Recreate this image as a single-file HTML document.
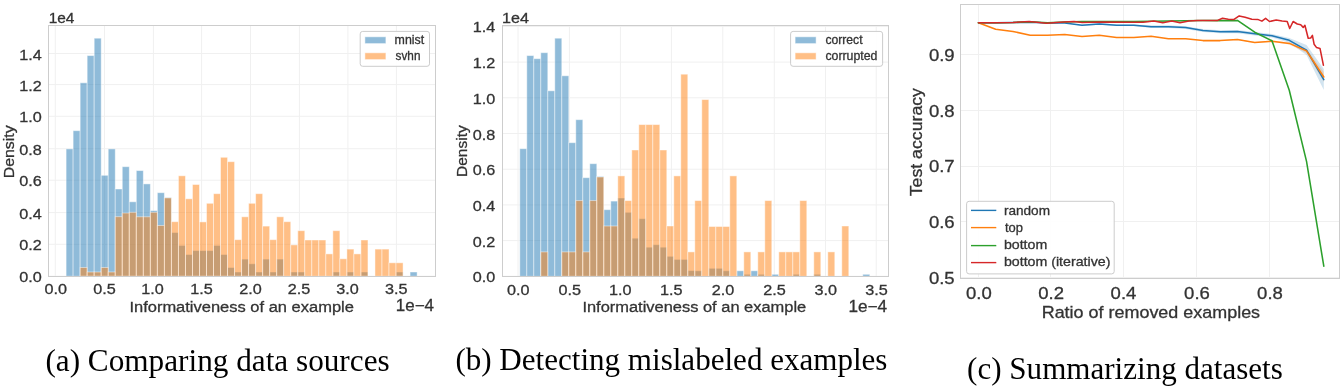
<!DOCTYPE html>
<html><head><meta charset="utf-8"><style>
html,body{margin:0;padding:0;background:#fff;width:1343px;height:386px;overflow:hidden}
svg{display:block;will-change:transform}
</style></head><body>
<svg width="1343" height="386" viewBox="0 0 1343 386">
<rect x="0" y="0" width="1343" height="386" fill="#fff"/>
<line x1="55.30" y1="25.50" x2="55.30" y2="276.50" stroke="#f0f0f0" stroke-width="1"/>
<line x1="104.50" y1="25.50" x2="104.50" y2="276.50" stroke="#f0f0f0" stroke-width="1"/>
<line x1="153.40" y1="25.50" x2="153.40" y2="276.50" stroke="#f0f0f0" stroke-width="1"/>
<line x1="201.60" y1="25.50" x2="201.60" y2="276.50" stroke="#f0f0f0" stroke-width="1"/>
<line x1="250.50" y1="25.50" x2="250.50" y2="276.50" stroke="#f0f0f0" stroke-width="1"/>
<line x1="299.40" y1="25.50" x2="299.40" y2="276.50" stroke="#f0f0f0" stroke-width="1"/>
<line x1="347.90" y1="25.50" x2="347.90" y2="276.50" stroke="#f0f0f0" stroke-width="1"/>
<line x1="396.40" y1="25.50" x2="396.40" y2="276.50" stroke="#f0f0f0" stroke-width="1"/>
<line x1="48.50" y1="276.20" x2="435.50" y2="276.20" stroke="#f0f0f0" stroke-width="1"/>
<line x1="48.50" y1="244.30" x2="435.50" y2="244.30" stroke="#f0f0f0" stroke-width="1"/>
<line x1="48.50" y1="212.60" x2="435.50" y2="212.60" stroke="#f0f0f0" stroke-width="1"/>
<line x1="48.50" y1="180.20" x2="435.50" y2="180.20" stroke="#f0f0f0" stroke-width="1"/>
<line x1="48.50" y1="148.70" x2="435.50" y2="148.70" stroke="#f0f0f0" stroke-width="1"/>
<line x1="48.50" y1="116.30" x2="435.50" y2="116.30" stroke="#f0f0f0" stroke-width="1"/>
<line x1="48.50" y1="84.60" x2="435.50" y2="84.60" stroke="#f0f0f0" stroke-width="1"/>
<line x1="48.50" y1="53.50" x2="435.50" y2="53.50" stroke="#f0f0f0" stroke-width="1"/>
<rect x="66.10" y="148.90" width="7.02" height="127.30" fill="rgb(31,119,180)" fill-opacity="0.5" stroke="#fff" stroke-opacity="0.5" stroke-width="0.9"/>
<rect x="73.12" y="130.70" width="7.02" height="145.50" fill="rgb(31,119,180)" fill-opacity="0.5" stroke="#fff" stroke-opacity="0.5" stroke-width="0.9"/>
<rect x="80.14" y="82.80" width="7.02" height="193.40" fill="rgb(31,119,180)" fill-opacity="0.5" stroke="#fff" stroke-opacity="0.5" stroke-width="0.9"/>
<rect x="87.16" y="55.60" width="7.02" height="220.60" fill="rgb(31,119,180)" fill-opacity="0.5" stroke="#fff" stroke-opacity="0.5" stroke-width="0.9"/>
<rect x="94.18" y="38.20" width="7.02" height="238.00" fill="rgb(31,119,180)" fill-opacity="0.5" stroke="#fff" stroke-opacity="0.5" stroke-width="0.9"/>
<rect x="101.20" y="175.30" width="7.02" height="100.90" fill="rgb(31,119,180)" fill-opacity="0.5" stroke="#fff" stroke-opacity="0.5" stroke-width="0.9"/>
<rect x="108.22" y="148.90" width="7.02" height="127.30" fill="rgb(31,119,180)" fill-opacity="0.5" stroke="#fff" stroke-opacity="0.5" stroke-width="0.9"/>
<rect x="115.24" y="189.00" width="7.02" height="87.20" fill="rgb(31,119,180)" fill-opacity="0.5" stroke="#fff" stroke-opacity="0.5" stroke-width="0.9"/>
<rect x="122.26" y="166.70" width="7.02" height="109.50" fill="rgb(31,119,180)" fill-opacity="0.5" stroke="#fff" stroke-opacity="0.5" stroke-width="0.9"/>
<rect x="129.28" y="201.80" width="7.02" height="74.40" fill="rgb(31,119,180)" fill-opacity="0.5" stroke="#fff" stroke-opacity="0.5" stroke-width="0.9"/>
<rect x="136.30" y="170.60" width="7.02" height="105.60" fill="rgb(31,119,180)" fill-opacity="0.5" stroke="#fff" stroke-opacity="0.5" stroke-width="0.9"/>
<rect x="143.32" y="183.90" width="7.02" height="92.30" fill="rgb(31,119,180)" fill-opacity="0.5" stroke="#fff" stroke-opacity="0.5" stroke-width="0.9"/>
<rect x="150.34" y="210.60" width="7.02" height="65.60" fill="rgb(31,119,180)" fill-opacity="0.5" stroke="#fff" stroke-opacity="0.5" stroke-width="0.9"/>
<rect x="157.36" y="192.70" width="7.02" height="83.50" fill="rgb(31,119,180)" fill-opacity="0.5" stroke="#fff" stroke-opacity="0.5" stroke-width="0.9"/>
<rect x="164.38" y="197.50" width="7.02" height="78.70" fill="rgb(31,119,180)" fill-opacity="0.5" stroke="#fff" stroke-opacity="0.5" stroke-width="0.9"/>
<rect x="171.40" y="232.50" width="7.02" height="43.70" fill="rgb(31,119,180)" fill-opacity="0.5" stroke="#fff" stroke-opacity="0.5" stroke-width="0.9"/>
<rect x="178.42" y="245.40" width="7.02" height="30.80" fill="rgb(31,119,180)" fill-opacity="0.5" stroke="#fff" stroke-opacity="0.5" stroke-width="0.9"/>
<rect x="185.44" y="254.50" width="7.02" height="21.70" fill="rgb(31,119,180)" fill-opacity="0.5" stroke="#fff" stroke-opacity="0.5" stroke-width="0.9"/>
<rect x="192.46" y="250.60" width="7.02" height="25.60" fill="rgb(31,119,180)" fill-opacity="0.5" stroke="#fff" stroke-opacity="0.5" stroke-width="0.9"/>
<rect x="199.48" y="250.60" width="7.02" height="25.60" fill="rgb(31,119,180)" fill-opacity="0.5" stroke="#fff" stroke-opacity="0.5" stroke-width="0.9"/>
<rect x="206.50" y="250.60" width="7.02" height="25.60" fill="rgb(31,119,180)" fill-opacity="0.5" stroke="#fff" stroke-opacity="0.5" stroke-width="0.9"/>
<rect x="213.52" y="245.40" width="7.02" height="30.80" fill="rgb(31,119,180)" fill-opacity="0.5" stroke="#fff" stroke-opacity="0.5" stroke-width="0.9"/>
<rect x="220.54" y="254.50" width="7.02" height="21.70" fill="rgb(31,119,180)" fill-opacity="0.5" stroke="#fff" stroke-opacity="0.5" stroke-width="0.9"/>
<rect x="227.56" y="267.50" width="7.02" height="8.70" fill="rgb(31,119,180)" fill-opacity="0.5" stroke="#fff" stroke-opacity="0.5" stroke-width="0.9"/>
<rect x="234.58" y="272.00" width="7.02" height="4.20" fill="rgb(31,119,180)" fill-opacity="0.5" stroke="#fff" stroke-opacity="0.5" stroke-width="0.9"/>
<rect x="241.60" y="259.10" width="7.02" height="17.10" fill="rgb(31,119,180)" fill-opacity="0.5" stroke="#fff" stroke-opacity="0.5" stroke-width="0.9"/>
<rect x="248.62" y="263.80" width="7.02" height="12.40" fill="rgb(31,119,180)" fill-opacity="0.5" stroke="#fff" stroke-opacity="0.5" stroke-width="0.9"/>
<rect x="255.64" y="272.00" width="7.02" height="4.20" fill="rgb(31,119,180)" fill-opacity="0.5" stroke="#fff" stroke-opacity="0.5" stroke-width="0.9"/>
<rect x="262.66" y="259.10" width="7.02" height="17.10" fill="rgb(31,119,180)" fill-opacity="0.5" stroke="#fff" stroke-opacity="0.5" stroke-width="0.9"/>
<rect x="269.68" y="272.00" width="7.02" height="4.20" fill="rgb(31,119,180)" fill-opacity="0.5" stroke="#fff" stroke-opacity="0.5" stroke-width="0.9"/>
<rect x="276.70" y="259.10" width="7.02" height="17.10" fill="rgb(31,119,180)" fill-opacity="0.5" stroke="#fff" stroke-opacity="0.5" stroke-width="0.9"/>
<rect x="290.74" y="272.00" width="7.02" height="4.20" fill="rgb(31,119,180)" fill-opacity="0.5" stroke="#fff" stroke-opacity="0.5" stroke-width="0.9"/>
<rect x="297.76" y="272.00" width="7.02" height="4.20" fill="rgb(31,119,180)" fill-opacity="0.5" stroke="#fff" stroke-opacity="0.5" stroke-width="0.9"/>
<rect x="332.86" y="272.00" width="7.02" height="4.20" fill="rgb(31,119,180)" fill-opacity="0.5" stroke="#fff" stroke-opacity="0.5" stroke-width="0.9"/>
<rect x="346.90" y="272.00" width="7.02" height="4.20" fill="rgb(31,119,180)" fill-opacity="0.5" stroke="#fff" stroke-opacity="0.5" stroke-width="0.9"/>
<rect x="360.94" y="272.00" width="7.02" height="4.20" fill="rgb(31,119,180)" fill-opacity="0.5" stroke="#fff" stroke-opacity="0.5" stroke-width="0.9"/>
<rect x="396.04" y="272.00" width="7.02" height="4.20" fill="rgb(31,119,180)" fill-opacity="0.5" stroke="#fff" stroke-opacity="0.5" stroke-width="0.9"/>
<rect x="410.08" y="272.00" width="7.02" height="4.20" fill="rgb(31,119,180)" fill-opacity="0.5" stroke="#fff" stroke-opacity="0.5" stroke-width="0.9"/>
<rect x="80.14" y="267.50" width="7.02" height="8.70" fill="rgb(255,127,14)" fill-opacity="0.5" stroke="#fff" stroke-opacity="0.5" stroke-width="0.9"/>
<rect x="87.16" y="272.00" width="7.02" height="4.20" fill="rgb(255,127,14)" fill-opacity="0.5" stroke="#fff" stroke-opacity="0.5" stroke-width="0.9"/>
<rect x="94.18" y="272.00" width="7.02" height="4.20" fill="rgb(255,127,14)" fill-opacity="0.5" stroke="#fff" stroke-opacity="0.5" stroke-width="0.9"/>
<rect x="101.20" y="267.50" width="7.02" height="8.70" fill="rgb(255,127,14)" fill-opacity="0.5" stroke="#fff" stroke-opacity="0.5" stroke-width="0.9"/>
<rect x="108.22" y="272.00" width="7.02" height="4.20" fill="rgb(255,127,14)" fill-opacity="0.5" stroke="#fff" stroke-opacity="0.5" stroke-width="0.9"/>
<rect x="115.24" y="216.70" width="7.02" height="59.50" fill="rgb(255,127,14)" fill-opacity="0.5" stroke="#fff" stroke-opacity="0.5" stroke-width="0.9"/>
<rect x="122.26" y="213.00" width="7.02" height="63.20" fill="rgb(255,127,14)" fill-opacity="0.5" stroke="#fff" stroke-opacity="0.5" stroke-width="0.9"/>
<rect x="129.28" y="212.30" width="7.02" height="63.90" fill="rgb(255,127,14)" fill-opacity="0.5" stroke="#fff" stroke-opacity="0.5" stroke-width="0.9"/>
<rect x="136.30" y="216.80" width="7.02" height="59.40" fill="rgb(255,127,14)" fill-opacity="0.5" stroke="#fff" stroke-opacity="0.5" stroke-width="0.9"/>
<rect x="143.32" y="216.80" width="7.02" height="59.40" fill="rgb(255,127,14)" fill-opacity="0.5" stroke="#fff" stroke-opacity="0.5" stroke-width="0.9"/>
<rect x="150.34" y="212.30" width="7.02" height="63.90" fill="rgb(255,127,14)" fill-opacity="0.5" stroke="#fff" stroke-opacity="0.5" stroke-width="0.9"/>
<rect x="157.36" y="225.50" width="7.02" height="50.70" fill="rgb(255,127,14)" fill-opacity="0.5" stroke="#fff" stroke-opacity="0.5" stroke-width="0.9"/>
<rect x="164.38" y="197.90" width="7.02" height="78.30" fill="rgb(255,127,14)" fill-opacity="0.5" stroke="#fff" stroke-opacity="0.5" stroke-width="0.9"/>
<rect x="171.40" y="221.70" width="7.02" height="54.50" fill="rgb(255,127,14)" fill-opacity="0.5" stroke="#fff" stroke-opacity="0.5" stroke-width="0.9"/>
<rect x="178.42" y="175.80" width="7.02" height="100.40" fill="rgb(255,127,14)" fill-opacity="0.5" stroke="#fff" stroke-opacity="0.5" stroke-width="0.9"/>
<rect x="185.44" y="198.80" width="7.02" height="77.40" fill="rgb(255,127,14)" fill-opacity="0.5" stroke="#fff" stroke-opacity="0.5" stroke-width="0.9"/>
<rect x="192.46" y="184.50" width="7.02" height="91.70" fill="rgb(255,127,14)" fill-opacity="0.5" stroke="#fff" stroke-opacity="0.5" stroke-width="0.9"/>
<rect x="199.48" y="221.90" width="7.02" height="54.30" fill="rgb(255,127,14)" fill-opacity="0.5" stroke="#fff" stroke-opacity="0.5" stroke-width="0.9"/>
<rect x="206.50" y="203.30" width="7.02" height="72.90" fill="rgb(255,127,14)" fill-opacity="0.5" stroke="#fff" stroke-opacity="0.5" stroke-width="0.9"/>
<rect x="213.52" y="193.70" width="7.02" height="82.50" fill="rgb(255,127,14)" fill-opacity="0.5" stroke="#fff" stroke-opacity="0.5" stroke-width="0.9"/>
<rect x="220.54" y="157.30" width="7.02" height="118.90" fill="rgb(255,127,14)" fill-opacity="0.5" stroke="#fff" stroke-opacity="0.5" stroke-width="0.9"/>
<rect x="227.56" y="161.70" width="7.02" height="114.50" fill="rgb(255,127,14)" fill-opacity="0.5" stroke="#fff" stroke-opacity="0.5" stroke-width="0.9"/>
<rect x="234.58" y="239.70" width="7.02" height="36.50" fill="rgb(255,127,14)" fill-opacity="0.5" stroke="#fff" stroke-opacity="0.5" stroke-width="0.9"/>
<rect x="241.60" y="216.80" width="7.02" height="59.40" fill="rgb(255,127,14)" fill-opacity="0.5" stroke="#fff" stroke-opacity="0.5" stroke-width="0.9"/>
<rect x="248.62" y="203.30" width="7.02" height="72.90" fill="rgb(255,127,14)" fill-opacity="0.5" stroke="#fff" stroke-opacity="0.5" stroke-width="0.9"/>
<rect x="255.64" y="193.70" width="7.02" height="82.50" fill="rgb(255,127,14)" fill-opacity="0.5" stroke="#fff" stroke-opacity="0.5" stroke-width="0.9"/>
<rect x="262.66" y="226.10" width="7.02" height="50.10" fill="rgb(255,127,14)" fill-opacity="0.5" stroke="#fff" stroke-opacity="0.5" stroke-width="0.9"/>
<rect x="269.68" y="239.70" width="7.02" height="36.50" fill="rgb(255,127,14)" fill-opacity="0.5" stroke="#fff" stroke-opacity="0.5" stroke-width="0.9"/>
<rect x="276.70" y="216.80" width="7.02" height="59.40" fill="rgb(255,127,14)" fill-opacity="0.5" stroke="#fff" stroke-opacity="0.5" stroke-width="0.9"/>
<rect x="283.72" y="221.70" width="7.02" height="54.50" fill="rgb(255,127,14)" fill-opacity="0.5" stroke="#fff" stroke-opacity="0.5" stroke-width="0.9"/>
<rect x="290.74" y="244.90" width="7.02" height="31.30" fill="rgb(255,127,14)" fill-opacity="0.5" stroke="#fff" stroke-opacity="0.5" stroke-width="0.9"/>
<rect x="297.76" y="230.70" width="7.02" height="45.50" fill="rgb(255,127,14)" fill-opacity="0.5" stroke="#fff" stroke-opacity="0.5" stroke-width="0.9"/>
<rect x="304.78" y="240.00" width="7.02" height="36.20" fill="rgb(255,127,14)" fill-opacity="0.5" stroke="#fff" stroke-opacity="0.5" stroke-width="0.9"/>
<rect x="311.80" y="240.00" width="7.02" height="36.20" fill="rgb(255,127,14)" fill-opacity="0.5" stroke="#fff" stroke-opacity="0.5" stroke-width="0.9"/>
<rect x="318.82" y="240.00" width="7.02" height="36.20" fill="rgb(255,127,14)" fill-opacity="0.5" stroke="#fff" stroke-opacity="0.5" stroke-width="0.9"/>
<rect x="325.84" y="253.90" width="7.02" height="22.30" fill="rgb(255,127,14)" fill-opacity="0.5" stroke="#fff" stroke-opacity="0.5" stroke-width="0.9"/>
<rect x="332.86" y="230.70" width="7.02" height="45.50" fill="rgb(255,127,14)" fill-opacity="0.5" stroke="#fff" stroke-opacity="0.5" stroke-width="0.9"/>
<rect x="339.88" y="258.80" width="7.02" height="17.40" fill="rgb(255,127,14)" fill-opacity="0.5" stroke="#fff" stroke-opacity="0.5" stroke-width="0.9"/>
<rect x="346.90" y="249.10" width="7.02" height="27.10" fill="rgb(255,127,14)" fill-opacity="0.5" stroke="#fff" stroke-opacity="0.5" stroke-width="0.9"/>
<rect x="353.92" y="253.90" width="7.02" height="22.30" fill="rgb(255,127,14)" fill-opacity="0.5" stroke="#fff" stroke-opacity="0.5" stroke-width="0.9"/>
<rect x="360.94" y="240.00" width="7.02" height="36.20" fill="rgb(255,127,14)" fill-opacity="0.5" stroke="#fff" stroke-opacity="0.5" stroke-width="0.9"/>
<rect x="374.98" y="249.10" width="7.02" height="27.10" fill="rgb(255,127,14)" fill-opacity="0.5" stroke="#fff" stroke-opacity="0.5" stroke-width="0.9"/>
<rect x="382.00" y="249.10" width="7.02" height="27.10" fill="rgb(255,127,14)" fill-opacity="0.5" stroke="#fff" stroke-opacity="0.5" stroke-width="0.9"/>
<rect x="389.02" y="262.80" width="7.02" height="13.40" fill="rgb(255,127,14)" fill-opacity="0.5" stroke="#fff" stroke-opacity="0.5" stroke-width="0.9"/>
<rect x="396.04" y="262.80" width="7.02" height="13.40" fill="rgb(255,127,14)" fill-opacity="0.5" stroke="#fff" stroke-opacity="0.5" stroke-width="0.9"/>
<rect x="48.50" y="25.50" width="387.00" height="251.00" fill="none" stroke="#cdcdcd" stroke-width="1"/>
<line x1="518.00" y1="25.50" x2="518.00" y2="276.50" stroke="#f0f0f0" stroke-width="1"/>
<line x1="569.40" y1="25.50" x2="569.40" y2="276.50" stroke="#f0f0f0" stroke-width="1"/>
<line x1="620.40" y1="25.50" x2="620.40" y2="276.50" stroke="#f0f0f0" stroke-width="1"/>
<line x1="671.40" y1="25.50" x2="671.40" y2="276.50" stroke="#f0f0f0" stroke-width="1"/>
<line x1="722.80" y1="25.50" x2="722.80" y2="276.50" stroke="#f0f0f0" stroke-width="1"/>
<line x1="774.30" y1="25.50" x2="774.30" y2="276.50" stroke="#f0f0f0" stroke-width="1"/>
<line x1="825.50" y1="25.50" x2="825.50" y2="276.50" stroke="#f0f0f0" stroke-width="1"/>
<line x1="876.20" y1="25.50" x2="876.20" y2="276.50" stroke="#f0f0f0" stroke-width="1"/>
<line x1="502.50" y1="276.30" x2="888.50" y2="276.30" stroke="#f0f0f0" stroke-width="1"/>
<line x1="502.50" y1="240.60" x2="888.50" y2="240.60" stroke="#f0f0f0" stroke-width="1"/>
<line x1="502.50" y1="204.90" x2="888.50" y2="204.90" stroke="#f0f0f0" stroke-width="1"/>
<line x1="502.50" y1="169.20" x2="888.50" y2="169.20" stroke="#f0f0f0" stroke-width="1"/>
<line x1="502.50" y1="133.50" x2="888.50" y2="133.50" stroke="#f0f0f0" stroke-width="1"/>
<line x1="502.50" y1="97.80" x2="888.50" y2="97.80" stroke="#f0f0f0" stroke-width="1"/>
<line x1="502.50" y1="62.10" x2="888.50" y2="62.10" stroke="#f0f0f0" stroke-width="1"/>
<line x1="502.50" y1="26.40" x2="888.50" y2="26.40" stroke="#f0f0f0" stroke-width="1"/>
<rect x="519.80" y="148.70" width="7.00" height="127.60" fill="rgb(31,119,180)" fill-opacity="0.5" stroke="#fff" stroke-opacity="0.5" stroke-width="0.9"/>
<rect x="526.80" y="55.60" width="7.00" height="220.70" fill="rgb(31,119,180)" fill-opacity="0.5" stroke="#fff" stroke-opacity="0.5" stroke-width="0.9"/>
<rect x="533.80" y="58.70" width="7.00" height="217.60" fill="rgb(31,119,180)" fill-opacity="0.5" stroke="#fff" stroke-opacity="0.5" stroke-width="0.9"/>
<rect x="540.80" y="52.70" width="7.00" height="223.60" fill="rgb(31,119,180)" fill-opacity="0.5" stroke="#fff" stroke-opacity="0.5" stroke-width="0.9"/>
<rect x="547.80" y="90.80" width="7.00" height="185.50" fill="rgb(31,119,180)" fill-opacity="0.5" stroke="#fff" stroke-opacity="0.5" stroke-width="0.9"/>
<rect x="554.80" y="38.20" width="7.00" height="238.10" fill="rgb(31,119,180)" fill-opacity="0.5" stroke="#fff" stroke-opacity="0.5" stroke-width="0.9"/>
<rect x="561.80" y="75.80" width="7.00" height="200.50" fill="rgb(31,119,180)" fill-opacity="0.5" stroke="#fff" stroke-opacity="0.5" stroke-width="0.9"/>
<rect x="568.80" y="142.70" width="7.00" height="133.60" fill="rgb(31,119,180)" fill-opacity="0.5" stroke="#fff" stroke-opacity="0.5" stroke-width="0.9"/>
<rect x="575.80" y="119.70" width="7.00" height="156.60" fill="rgb(31,119,180)" fill-opacity="0.5" stroke="#fff" stroke-opacity="0.5" stroke-width="0.9"/>
<rect x="582.80" y="177.70" width="7.00" height="98.60" fill="rgb(31,119,180)" fill-opacity="0.5" stroke="#fff" stroke-opacity="0.5" stroke-width="0.9"/>
<rect x="589.80" y="163.70" width="7.00" height="112.60" fill="rgb(31,119,180)" fill-opacity="0.5" stroke="#fff" stroke-opacity="0.5" stroke-width="0.9"/>
<rect x="596.80" y="176.40" width="7.00" height="99.90" fill="rgb(31,119,180)" fill-opacity="0.5" stroke="#fff" stroke-opacity="0.5" stroke-width="0.9"/>
<rect x="603.80" y="209.70" width="7.00" height="66.60" fill="rgb(31,119,180)" fill-opacity="0.5" stroke="#fff" stroke-opacity="0.5" stroke-width="0.9"/>
<rect x="610.80" y="201.10" width="7.00" height="75.20" fill="rgb(31,119,180)" fill-opacity="0.5" stroke="#fff" stroke-opacity="0.5" stroke-width="0.9"/>
<rect x="617.80" y="198.00" width="7.00" height="78.30" fill="rgb(31,119,180)" fill-opacity="0.5" stroke="#fff" stroke-opacity="0.5" stroke-width="0.9"/>
<rect x="624.80" y="212.30" width="7.00" height="64.00" fill="rgb(31,119,180)" fill-opacity="0.5" stroke="#fff" stroke-opacity="0.5" stroke-width="0.9"/>
<rect x="631.80" y="238.20" width="7.00" height="38.10" fill="rgb(31,119,180)" fill-opacity="0.5" stroke="#fff" stroke-opacity="0.5" stroke-width="0.9"/>
<rect x="638.80" y="218.70" width="7.00" height="57.60" fill="rgb(31,119,180)" fill-opacity="0.5" stroke="#fff" stroke-opacity="0.5" stroke-width="0.9"/>
<rect x="645.80" y="247.20" width="7.00" height="29.10" fill="rgb(31,119,180)" fill-opacity="0.5" stroke="#fff" stroke-opacity="0.5" stroke-width="0.9"/>
<rect x="652.80" y="244.70" width="7.00" height="31.60" fill="rgb(31,119,180)" fill-opacity="0.5" stroke="#fff" stroke-opacity="0.5" stroke-width="0.9"/>
<rect x="659.80" y="247.20" width="7.00" height="29.10" fill="rgb(31,119,180)" fill-opacity="0.5" stroke="#fff" stroke-opacity="0.5" stroke-width="0.9"/>
<rect x="666.80" y="256.30" width="7.00" height="20.00" fill="rgb(31,119,180)" fill-opacity="0.5" stroke="#fff" stroke-opacity="0.5" stroke-width="0.9"/>
<rect x="673.80" y="259.40" width="7.00" height="16.90" fill="rgb(31,119,180)" fill-opacity="0.5" stroke="#fff" stroke-opacity="0.5" stroke-width="0.9"/>
<rect x="680.80" y="259.40" width="7.00" height="16.90" fill="rgb(31,119,180)" fill-opacity="0.5" stroke="#fff" stroke-opacity="0.5" stroke-width="0.9"/>
<rect x="687.80" y="270.60" width="7.00" height="5.70" fill="rgb(31,119,180)" fill-opacity="0.5" stroke="#fff" stroke-opacity="0.5" stroke-width="0.9"/>
<rect x="694.80" y="270.80" width="7.00" height="5.50" fill="rgb(31,119,180)" fill-opacity="0.5" stroke="#fff" stroke-opacity="0.5" stroke-width="0.9"/>
<rect x="708.80" y="268.30" width="7.00" height="8.00" fill="rgb(31,119,180)" fill-opacity="0.5" stroke="#fff" stroke-opacity="0.5" stroke-width="0.9"/>
<rect x="715.80" y="268.30" width="7.00" height="8.00" fill="rgb(31,119,180)" fill-opacity="0.5" stroke="#fff" stroke-opacity="0.5" stroke-width="0.9"/>
<rect x="722.80" y="270.80" width="7.00" height="5.50" fill="rgb(31,119,180)" fill-opacity="0.5" stroke="#fff" stroke-opacity="0.5" stroke-width="0.9"/>
<rect x="736.80" y="270.80" width="7.00" height="5.50" fill="rgb(31,119,180)" fill-opacity="0.5" stroke="#fff" stroke-opacity="0.5" stroke-width="0.9"/>
<rect x="743.80" y="274.30" width="7.00" height="2.00" fill="rgb(31,119,180)" fill-opacity="0.5" stroke="#fff" stroke-opacity="0.5" stroke-width="0.9"/>
<rect x="750.80" y="270.80" width="7.00" height="5.50" fill="rgb(31,119,180)" fill-opacity="0.5" stroke="#fff" stroke-opacity="0.5" stroke-width="0.9"/>
<rect x="757.80" y="274.30" width="7.00" height="2.00" fill="rgb(31,119,180)" fill-opacity="0.5" stroke="#fff" stroke-opacity="0.5" stroke-width="0.9"/>
<rect x="771.80" y="274.30" width="7.00" height="2.00" fill="rgb(31,119,180)" fill-opacity="0.5" stroke="#fff" stroke-opacity="0.5" stroke-width="0.9"/>
<rect x="792.80" y="274.30" width="7.00" height="2.00" fill="rgb(31,119,180)" fill-opacity="0.5" stroke="#fff" stroke-opacity="0.5" stroke-width="0.9"/>
<rect x="813.80" y="274.30" width="7.00" height="2.00" fill="rgb(31,119,180)" fill-opacity="0.5" stroke="#fff" stroke-opacity="0.5" stroke-width="0.9"/>
<rect x="862.80" y="274.30" width="7.00" height="2.00" fill="rgb(31,119,180)" fill-opacity="0.5" stroke="#fff" stroke-opacity="0.5" stroke-width="0.9"/>
<rect x="540.80" y="251.90" width="7.00" height="24.40" fill="rgb(255,127,14)" fill-opacity="0.5" stroke="#fff" stroke-opacity="0.5" stroke-width="0.9"/>
<rect x="561.80" y="251.90" width="7.00" height="24.40" fill="rgb(255,127,14)" fill-opacity="0.5" stroke="#fff" stroke-opacity="0.5" stroke-width="0.9"/>
<rect x="568.80" y="251.90" width="7.00" height="24.40" fill="rgb(255,127,14)" fill-opacity="0.5" stroke="#fff" stroke-opacity="0.5" stroke-width="0.9"/>
<rect x="575.80" y="200.60" width="7.00" height="75.70" fill="rgb(255,127,14)" fill-opacity="0.5" stroke="#fff" stroke-opacity="0.5" stroke-width="0.9"/>
<rect x="582.80" y="251.90" width="7.00" height="24.40" fill="rgb(255,127,14)" fill-opacity="0.5" stroke="#fff" stroke-opacity="0.5" stroke-width="0.9"/>
<rect x="589.80" y="200.60" width="7.00" height="75.70" fill="rgb(255,127,14)" fill-opacity="0.5" stroke="#fff" stroke-opacity="0.5" stroke-width="0.9"/>
<rect x="596.80" y="177.00" width="7.00" height="99.30" fill="rgb(255,127,14)" fill-opacity="0.5" stroke="#fff" stroke-opacity="0.5" stroke-width="0.9"/>
<rect x="603.80" y="226.00" width="7.00" height="50.30" fill="rgb(255,127,14)" fill-opacity="0.5" stroke="#fff" stroke-opacity="0.5" stroke-width="0.9"/>
<rect x="610.80" y="226.00" width="7.00" height="50.30" fill="rgb(255,127,14)" fill-opacity="0.5" stroke="#fff" stroke-opacity="0.5" stroke-width="0.9"/>
<rect x="617.80" y="175.90" width="7.00" height="100.40" fill="rgb(255,127,14)" fill-opacity="0.5" stroke="#fff" stroke-opacity="0.5" stroke-width="0.9"/>
<rect x="624.80" y="200.60" width="7.00" height="75.70" fill="rgb(255,127,14)" fill-opacity="0.5" stroke="#fff" stroke-opacity="0.5" stroke-width="0.9"/>
<rect x="631.80" y="150.00" width="7.00" height="126.30" fill="rgb(255,127,14)" fill-opacity="0.5" stroke="#fff" stroke-opacity="0.5" stroke-width="0.9"/>
<rect x="638.80" y="124.60" width="7.00" height="151.70" fill="rgb(255,127,14)" fill-opacity="0.5" stroke="#fff" stroke-opacity="0.5" stroke-width="0.9"/>
<rect x="645.80" y="124.60" width="7.00" height="151.70" fill="rgb(255,127,14)" fill-opacity="0.5" stroke="#fff" stroke-opacity="0.5" stroke-width="0.9"/>
<rect x="652.80" y="124.60" width="7.00" height="151.70" fill="rgb(255,127,14)" fill-opacity="0.5" stroke="#fff" stroke-opacity="0.5" stroke-width="0.9"/>
<rect x="659.80" y="150.00" width="7.00" height="126.30" fill="rgb(255,127,14)" fill-opacity="0.5" stroke="#fff" stroke-opacity="0.5" stroke-width="0.9"/>
<rect x="666.80" y="226.00" width="7.00" height="50.30" fill="rgb(255,127,14)" fill-opacity="0.5" stroke="#fff" stroke-opacity="0.5" stroke-width="0.9"/>
<rect x="673.80" y="175.90" width="7.00" height="100.40" fill="rgb(255,127,14)" fill-opacity="0.5" stroke="#fff" stroke-opacity="0.5" stroke-width="0.9"/>
<rect x="680.80" y="74.20" width="7.00" height="202.10" fill="rgb(255,127,14)" fill-opacity="0.5" stroke="#fff" stroke-opacity="0.5" stroke-width="0.9"/>
<rect x="687.80" y="251.90" width="7.00" height="24.40" fill="rgb(255,127,14)" fill-opacity="0.5" stroke="#fff" stroke-opacity="0.5" stroke-width="0.9"/>
<rect x="694.80" y="200.60" width="7.00" height="75.70" fill="rgb(255,127,14)" fill-opacity="0.5" stroke="#fff" stroke-opacity="0.5" stroke-width="0.9"/>
<rect x="701.80" y="99.60" width="7.00" height="176.70" fill="rgb(255,127,14)" fill-opacity="0.5" stroke="#fff" stroke-opacity="0.5" stroke-width="0.9"/>
<rect x="708.80" y="226.50" width="7.00" height="49.80" fill="rgb(255,127,14)" fill-opacity="0.5" stroke="#fff" stroke-opacity="0.5" stroke-width="0.9"/>
<rect x="715.80" y="226.50" width="7.00" height="49.80" fill="rgb(255,127,14)" fill-opacity="0.5" stroke="#fff" stroke-opacity="0.5" stroke-width="0.9"/>
<rect x="722.80" y="226.50" width="7.00" height="49.80" fill="rgb(255,127,14)" fill-opacity="0.5" stroke="#fff" stroke-opacity="0.5" stroke-width="0.9"/>
<rect x="729.80" y="175.90" width="7.00" height="100.40" fill="rgb(255,127,14)" fill-opacity="0.5" stroke="#fff" stroke-opacity="0.5" stroke-width="0.9"/>
<rect x="743.80" y="251.90" width="7.00" height="24.40" fill="rgb(255,127,14)" fill-opacity="0.5" stroke="#fff" stroke-opacity="0.5" stroke-width="0.9"/>
<rect x="757.80" y="251.90" width="7.00" height="24.40" fill="rgb(255,127,14)" fill-opacity="0.5" stroke="#fff" stroke-opacity="0.5" stroke-width="0.9"/>
<rect x="764.80" y="200.60" width="7.00" height="75.70" fill="rgb(255,127,14)" fill-opacity="0.5" stroke="#fff" stroke-opacity="0.5" stroke-width="0.9"/>
<rect x="778.80" y="251.90" width="7.00" height="24.40" fill="rgb(255,127,14)" fill-opacity="0.5" stroke="#fff" stroke-opacity="0.5" stroke-width="0.9"/>
<rect x="785.80" y="251.90" width="7.00" height="24.40" fill="rgb(255,127,14)" fill-opacity="0.5" stroke="#fff" stroke-opacity="0.5" stroke-width="0.9"/>
<rect x="792.80" y="251.90" width="7.00" height="24.40" fill="rgb(255,127,14)" fill-opacity="0.5" stroke="#fff" stroke-opacity="0.5" stroke-width="0.9"/>
<rect x="799.80" y="200.60" width="7.00" height="75.70" fill="rgb(255,127,14)" fill-opacity="0.5" stroke="#fff" stroke-opacity="0.5" stroke-width="0.9"/>
<rect x="813.80" y="251.90" width="7.00" height="24.40" fill="rgb(255,127,14)" fill-opacity="0.5" stroke="#fff" stroke-opacity="0.5" stroke-width="0.9"/>
<rect x="827.80" y="251.90" width="7.00" height="24.40" fill="rgb(255,127,14)" fill-opacity="0.5" stroke="#fff" stroke-opacity="0.5" stroke-width="0.9"/>
<rect x="841.80" y="226.00" width="7.00" height="50.30" fill="rgb(255,127,14)" fill-opacity="0.5" stroke="#fff" stroke-opacity="0.5" stroke-width="0.9"/>
<rect x="502.50" y="25.50" width="386.00" height="251.00" fill="none" stroke="#cdcdcd" stroke-width="1"/>
<line x1="978.50" y1="4.50" x2="978.50" y2="278.50" stroke="#f0f0f0" stroke-width="1"/>
<line x1="1050.50" y1="4.50" x2="1050.50" y2="278.50" stroke="#f0f0f0" stroke-width="1"/>
<line x1="1123.50" y1="4.50" x2="1123.50" y2="278.50" stroke="#f0f0f0" stroke-width="1"/>
<line x1="1196.50" y1="4.50" x2="1196.50" y2="278.50" stroke="#f0f0f0" stroke-width="1"/>
<line x1="1269.50" y1="4.50" x2="1269.50" y2="278.50" stroke="#f0f0f0" stroke-width="1"/>
<line x1="960.50" y1="277.50" x2="1339.50" y2="277.50" stroke="#f0f0f0" stroke-width="1"/>
<line x1="960.50" y1="221.50" x2="1339.50" y2="221.50" stroke="#f0f0f0" stroke-width="1"/>
<line x1="960.50" y1="166.50" x2="1339.50" y2="166.50" stroke="#f0f0f0" stroke-width="1"/>
<line x1="960.50" y1="110.50" x2="1339.50" y2="110.50" stroke="#f0f0f0" stroke-width="1"/>
<line x1="960.50" y1="54.50" x2="1339.50" y2="54.50" stroke="#f0f0f0" stroke-width="1"/>
<polygon points="978.40,22.70 995.67,22.70 1012.94,22.60 1030.21,22.30 1047.48,23.00 1064.75,23.00 1082.02,24.50 1099.29,23.10 1116.56,24.50 1133.83,24.50 1151.10,25.30 1168.37,25.30 1185.64,26.20 1202.91,29.10 1220.18,30.20 1237.45,30.00 1254.72,32.10 1271.99,34.00 1289.26,37.90 1306.53,45.10 1323.80,69.10 1323.80,90.10 1306.53,55.10 1289.26,42.70 1271.99,37.60 1254.72,35.50 1237.45,33.20 1220.18,33.20 1202.91,31.90 1185.64,29.00 1168.37,28.10 1151.10,28.10 1133.83,26.10 1116.56,26.10 1099.29,24.70 1082.02,26.10 1064.75,23.00 1047.48,23.00 1030.21,22.30 1012.94,22.60 995.67,22.70 978.40,22.70" fill="rgb(31,119,180)" fill-opacity="0.2"/>
<polygon points="978.40,22.70 995.67,29.30 1012.94,31.40 1030.21,35.30 1047.48,35.30 1064.75,34.40 1082.02,36.40 1099.29,35.30 1116.56,37.40 1133.83,37.60 1151.10,36.30 1168.37,38.70 1185.64,38.70 1202.91,40.60 1220.18,40.20 1237.45,39.00 1254.72,41.90 1271.99,40.40 1289.26,42.20 1306.53,48.90 1323.80,72.00 1323.80,82.00 1306.53,52.90 1289.26,44.60 1271.99,42.00 1254.72,43.10 1237.45,40.00 1220.18,41.00 1202.91,40.60 1185.64,38.70 1168.37,38.70 1151.10,36.30 1133.83,37.60 1116.56,37.40 1099.29,35.30 1082.02,36.40 1064.75,34.40 1047.48,35.30 1030.21,35.30 1012.94,31.40 995.67,29.30 978.40,22.70" fill="rgb(255,127,14)" fill-opacity="0.2"/>
<polyline points="978.40,22.70 995.67,22.70 1012.94,22.60 1030.21,22.30 1047.48,23.00 1064.75,23.00 1082.02,25.30 1099.29,23.90 1116.56,25.30 1133.83,25.30 1151.10,26.70 1168.37,26.70 1185.64,27.60 1202.91,30.50 1220.18,31.70 1237.45,31.60 1254.72,33.80 1271.99,35.80 1289.26,40.30 1306.53,50.10 1323.80,79.60" fill="none" stroke="rgb(31,119,180)" stroke-width="1.55" stroke-linejoin="round" stroke-linecap="round"/>
<polyline points="978.40,22.70 995.67,29.30 1012.94,31.40 1030.21,35.30 1047.48,35.30 1064.75,34.40 1082.02,36.40 1099.29,35.30 1116.56,37.40 1133.83,37.60 1151.10,36.30 1168.37,38.70 1185.64,38.70 1202.91,40.60 1220.18,40.60 1237.45,39.50 1254.72,42.50 1271.99,41.20 1289.26,43.40 1306.53,50.90 1323.80,77.00" fill="none" stroke="rgb(255,127,14)" stroke-width="1.55" stroke-linejoin="round" stroke-linecap="round"/>
<polyline points="978.40,22.70 995.67,22.70 1012.94,22.50 1030.21,21.80 1047.48,22.80 1064.75,22.00 1082.02,21.60 1099.29,21.40 1116.56,21.40 1133.83,21.50 1151.10,21.30 1168.37,21.00 1185.64,20.80 1202.91,20.60 1220.18,20.60 1237.45,20.40 1254.72,32.20 1271.99,40.80 1289.26,90.30 1306.53,161.40 1323.80,266.20" fill="none" stroke="rgb(44,160,44)" stroke-width="1.55" stroke-linejoin="round" stroke-linecap="round"/>
<polyline points="978.60,22.70 995.80,22.70 1013.10,22.50 1029.20,21.50 1046.50,23.30 1063.80,21.90 1073.90,21.50 1082.20,22.50 1099.50,22.10 1130.00,22.30 1143.10,22.30 1153.80,21.10 1162.80,22.70 1171.80,21.10 1180.00,22.70 1189.00,21.10 1197.20,20.40 1217.60,20.40 1222.50,18.20 1228.30,19.20 1234.00,19.40 1239.20,15.90 1245.10,17.30 1251.80,19.30 1257.70,19.40 1261.90,21.10 1265.60,18.40 1269.50,21.50 1276.20,20.10 1282.10,21.10 1287.20,21.50 1289.70,28.50 1293.10,21.50 1297.30,24.00 1300.70,24.80 1303.20,27.40 1304.90,25.30 1308.20,38.30 1310.70,38.00 1312.40,35.40 1314.10,44.20 1316.60,47.60 1320.00,48.40 1323.40,65.20" fill="none" stroke="rgb(214,39,40)" stroke-width="1.55" stroke-linejoin="round" stroke-linecap="round"/>
<rect x="960.50" y="4.50" width="379.00" height="274.00" fill="none" stroke="#cdcdcd" stroke-width="1"/>
<rect x="360.20" y="31.40" width="69.30" height="34.90" rx="2.5" ry="2.5" fill="#fff" fill-opacity="0.9" stroke="#cccccc" stroke-width="1"/>
<rect x="364.9" y="36.8" width="21" height="6.8" fill="rgb(31,119,180)" fill-opacity="0.5" stroke="#fff" stroke-opacity="0.5" stroke-width="1"/>
<rect x="364.9" y="52.8" width="21" height="6.8" fill="rgb(255,127,14)" fill-opacity="0.5" stroke="#fff" stroke-opacity="0.5" stroke-width="1"/>
<rect x="790.60" y="31.40" width="92.00" height="34.90" rx="2.5" ry="2.5" fill="#fff" fill-opacity="0.9" stroke="#cccccc" stroke-width="1"/>
<rect x="795.1" y="36.8" width="21" height="6.8" fill="rgb(31,119,180)" fill-opacity="0.5" stroke="#fff" stroke-opacity="0.5" stroke-width="1"/>
<rect x="795.1" y="52.8" width="21" height="6.8" fill="rgb(255,127,14)" fill-opacity="0.5" stroke="#fff" stroke-opacity="0.5" stroke-width="1"/>
<rect x="966.60" y="201.30" width="147.60" height="72.60" rx="2.5" ry="2.5" fill="#fff" fill-opacity="0.9" stroke="#cccccc" stroke-width="1"/>
<line x1="971" y1="210.40" x2="996.3" y2="210.40" stroke="rgb(31,119,180)" stroke-width="1.4"/>
<line x1="971" y1="227.60" x2="996.3" y2="227.60" stroke="rgb(255,127,14)" stroke-width="1.4"/>
<line x1="971" y1="245.60" x2="996.3" y2="245.60" stroke="rgb(44,160,44)" stroke-width="1.4"/>
<line x1="971" y1="262.60" x2="996.3" y2="262.60" stroke="rgb(214,39,40)" stroke-width="1.4"/>
<text x="19.20" y="282.20" font-family="'Liberation Sans', sans-serif" font-size="15.0" fill="#333333" textLength="22.528" lengthAdjust="spacingAndGlyphs" stroke="#333333" stroke-width="0.3">0.0</text>
<text x="19.20" y="250.30" font-family="'Liberation Sans', sans-serif" font-size="15.0" fill="#333333" textLength="22.528" lengthAdjust="spacingAndGlyphs" stroke="#333333" stroke-width="0.3">0.2</text>
<text x="19.20" y="218.60" font-family="'Liberation Sans', sans-serif" font-size="15.0" fill="#333333" textLength="22.528" lengthAdjust="spacingAndGlyphs" stroke="#333333" stroke-width="0.3">0.4</text>
<text x="19.20" y="186.20" font-family="'Liberation Sans', sans-serif" font-size="15.0" fill="#333333" textLength="22.528" lengthAdjust="spacingAndGlyphs" stroke="#333333" stroke-width="0.3">0.6</text>
<text x="19.20" y="154.70" font-family="'Liberation Sans', sans-serif" font-size="15.0" fill="#333333" textLength="22.528" lengthAdjust="spacingAndGlyphs" stroke="#333333" stroke-width="0.3">0.8</text>
<text x="19.20" y="122.30" font-family="'Liberation Sans', sans-serif" font-size="15.0" fill="#333333" textLength="22.528" lengthAdjust="spacingAndGlyphs" stroke="#333333" stroke-width="0.3">1.0</text>
<text x="19.20" y="90.60" font-family="'Liberation Sans', sans-serif" font-size="15.0" fill="#333333" textLength="22.528" lengthAdjust="spacingAndGlyphs" stroke="#333333" stroke-width="0.3">1.2</text>
<text x="19.20" y="59.50" font-family="'Liberation Sans', sans-serif" font-size="15.0" fill="#333333" textLength="22.528" lengthAdjust="spacingAndGlyphs" stroke="#333333" stroke-width="0.3">1.4</text>
<text x="44.50" y="294.40" font-family="'Liberation Sans', sans-serif" font-size="15.0" fill="#333333" textLength="22.528" lengthAdjust="spacingAndGlyphs" stroke="#333333" stroke-width="0.3">0.0</text>
<text x="93.20" y="294.40" font-family="'Liberation Sans', sans-serif" font-size="15.0" fill="#333333" textLength="22.528" lengthAdjust="spacingAndGlyphs" stroke="#333333" stroke-width="0.3">0.5</text>
<text x="141.20" y="294.40" font-family="'Liberation Sans', sans-serif" font-size="15.0" fill="#333333" textLength="22.528" lengthAdjust="spacingAndGlyphs" stroke="#333333" stroke-width="0.3">1.0</text>
<text x="190.30" y="294.40" font-family="'Liberation Sans', sans-serif" font-size="15.0" fill="#333333" textLength="22.528" lengthAdjust="spacingAndGlyphs" stroke="#333333" stroke-width="0.3">1.5</text>
<text x="239.30" y="294.40" font-family="'Liberation Sans', sans-serif" font-size="15.0" fill="#333333" textLength="22.528" lengthAdjust="spacingAndGlyphs" stroke="#333333" stroke-width="0.3">2.0</text>
<text x="287.70" y="294.40" font-family="'Liberation Sans', sans-serif" font-size="15.0" fill="#333333" textLength="22.528" lengthAdjust="spacingAndGlyphs" stroke="#333333" stroke-width="0.3">2.5</text>
<text x="336.20" y="294.40" font-family="'Liberation Sans', sans-serif" font-size="15.0" fill="#333333" textLength="22.528" lengthAdjust="spacingAndGlyphs" stroke="#333333" stroke-width="0.3">3.0</text>
<text x="385.00" y="294.40" font-family="'Liberation Sans', sans-serif" font-size="15.0" fill="#333333" textLength="22.528" lengthAdjust="spacingAndGlyphs" stroke="#333333" stroke-width="0.3">3.5</text>
<text x="48.70" y="23.20" font-family="'Liberation Sans', sans-serif" font-size="15.0" fill="#333333" textLength="25.763" lengthAdjust="spacingAndGlyphs" stroke="#333333" stroke-width="0.3">1e4</text>
<text transform="translate(14.00,178.30) rotate(-90)" x="0" y="0" font-family="'Liberation Sans', sans-serif" font-size="15.5" fill="#333333" textLength="53.006" lengthAdjust="spacingAndGlyphs" stroke="#333333" stroke-width="0.3">Density</text>
<text x="129.40" y="311.80" font-family="'Liberation Sans', sans-serif" font-size="15.5" fill="#333333" textLength="224.566" lengthAdjust="spacingAndGlyphs" stroke="#333333" stroke-width="0.3">Informativeness of an example</text>
<text x="395.80" y="311.10" font-family="'Liberation Sans', sans-serif" font-size="15.6" fill="#333333" textLength="38.131" lengthAdjust="spacingAndGlyphs" stroke="#333333" stroke-width="0.3">1e−4</text>
<text x="394.60" y="44.20" font-family="'Liberation Sans', sans-serif" font-size="12.0" fill="#333333" textLength="29.606" lengthAdjust="spacingAndGlyphs" stroke="#333333" stroke-width="0.3">mnist</text>
<text x="395.60" y="59.90" font-family="'Liberation Sans', sans-serif" font-size="12.0" fill="#333333" textLength="24.863" lengthAdjust="spacingAndGlyphs" stroke="#333333" stroke-width="0.3">svhn</text>
<text x="45.40" y="370.80" font-family="'Liberation Serif', serif" font-size="31.0" fill="#000" textLength="344.264" lengthAdjust="spacingAndGlyphs">(a) Comparing data sources</text>
<text x="472.80" y="282.30" font-family="'Liberation Sans', sans-serif" font-size="15.0" fill="#333333" textLength="22.528" lengthAdjust="spacingAndGlyphs" stroke="#333333" stroke-width="0.3">0.0</text>
<text x="472.80" y="246.60" font-family="'Liberation Sans', sans-serif" font-size="15.0" fill="#333333" textLength="22.528" lengthAdjust="spacingAndGlyphs" stroke="#333333" stroke-width="0.3">0.2</text>
<text x="472.80" y="210.90" font-family="'Liberation Sans', sans-serif" font-size="15.0" fill="#333333" textLength="22.528" lengthAdjust="spacingAndGlyphs" stroke="#333333" stroke-width="0.3">0.4</text>
<text x="472.80" y="175.20" font-family="'Liberation Sans', sans-serif" font-size="15.0" fill="#333333" textLength="22.528" lengthAdjust="spacingAndGlyphs" stroke="#333333" stroke-width="0.3">0.6</text>
<text x="472.80" y="139.50" font-family="'Liberation Sans', sans-serif" font-size="15.0" fill="#333333" textLength="22.528" lengthAdjust="spacingAndGlyphs" stroke="#333333" stroke-width="0.3">0.8</text>
<text x="472.80" y="103.80" font-family="'Liberation Sans', sans-serif" font-size="15.0" fill="#333333" textLength="22.528" lengthAdjust="spacingAndGlyphs" stroke="#333333" stroke-width="0.3">1.0</text>
<text x="472.80" y="68.10" font-family="'Liberation Sans', sans-serif" font-size="15.0" fill="#333333" textLength="22.528" lengthAdjust="spacingAndGlyphs" stroke="#333333" stroke-width="0.3">1.2</text>
<text x="472.80" y="32.40" font-family="'Liberation Sans', sans-serif" font-size="15.0" fill="#333333" textLength="22.528" lengthAdjust="spacingAndGlyphs" stroke="#333333" stroke-width="0.3">1.4</text>
<text x="507.00" y="294.50" font-family="'Liberation Sans', sans-serif" font-size="15.0" fill="#333333" textLength="22.528" lengthAdjust="spacingAndGlyphs" stroke="#333333" stroke-width="0.3">0.0</text>
<text x="558.40" y="294.50" font-family="'Liberation Sans', sans-serif" font-size="15.0" fill="#333333" textLength="22.528" lengthAdjust="spacingAndGlyphs" stroke="#333333" stroke-width="0.3">0.5</text>
<text x="608.90" y="294.50" font-family="'Liberation Sans', sans-serif" font-size="15.0" fill="#333333" textLength="22.528" lengthAdjust="spacingAndGlyphs" stroke="#333333" stroke-width="0.3">1.0</text>
<text x="659.90" y="294.50" font-family="'Liberation Sans', sans-serif" font-size="15.0" fill="#333333" textLength="22.528" lengthAdjust="spacingAndGlyphs" stroke="#333333" stroke-width="0.3">1.5</text>
<text x="711.80" y="294.50" font-family="'Liberation Sans', sans-serif" font-size="15.0" fill="#333333" textLength="22.528" lengthAdjust="spacingAndGlyphs" stroke="#333333" stroke-width="0.3">2.0</text>
<text x="763.30" y="294.50" font-family="'Liberation Sans', sans-serif" font-size="15.0" fill="#333333" textLength="22.528" lengthAdjust="spacingAndGlyphs" stroke="#333333" stroke-width="0.3">2.5</text>
<text x="814.50" y="294.50" font-family="'Liberation Sans', sans-serif" font-size="15.0" fill="#333333" textLength="22.528" lengthAdjust="spacingAndGlyphs" stroke="#333333" stroke-width="0.3">3.0</text>
<text x="865.20" y="294.50" font-family="'Liberation Sans', sans-serif" font-size="15.0" fill="#333333" textLength="22.528" lengthAdjust="spacingAndGlyphs" stroke="#333333" stroke-width="0.3">3.5</text>
<text x="502.00" y="23.20" font-family="'Liberation Sans', sans-serif" font-size="15.0" fill="#333333" textLength="26.920" lengthAdjust="spacingAndGlyphs" stroke="#333333" stroke-width="0.3">1e4</text>
<text transform="translate(467.00,177.00) rotate(-90)" x="0" y="0" font-family="'Liberation Sans', sans-serif" font-size="15.5" fill="#333333" textLength="51.688" lengthAdjust="spacingAndGlyphs" stroke="#333333" stroke-width="0.3">Density</text>
<text x="582.40" y="311.60" font-family="'Liberation Sans', sans-serif" font-size="15.5" fill="#333333" textLength="223.860" lengthAdjust="spacingAndGlyphs" stroke="#333333" stroke-width="0.3">Informativeness of an example</text>
<text x="848.40" y="311.50" font-family="'Liberation Sans', sans-serif" font-size="15.6" fill="#333333" textLength="38.641" lengthAdjust="spacingAndGlyphs" stroke="#333333" stroke-width="0.3">1e−4</text>
<text x="825.40" y="44.20" font-family="'Liberation Sans', sans-serif" font-size="12.0" fill="#333333" textLength="37.190" lengthAdjust="spacingAndGlyphs" stroke="#333333" stroke-width="0.3">correct</text>
<text x="825.40" y="59.90" font-family="'Liberation Sans', sans-serif" font-size="12.0" fill="#333333" textLength="52.035" lengthAdjust="spacingAndGlyphs" stroke="#333333" stroke-width="0.3">corrupted</text>
<text x="455.40" y="370.40" font-family="'Liberation Serif', serif" font-size="31.0" fill="#000" textLength="432.069" lengthAdjust="spacingAndGlyphs">(b) Detecting mislabeled examples</text>
<text x="928.90" y="283.50" font-family="'Liberation Sans', sans-serif" font-size="17.0" fill="#333333" textLength="25.768" lengthAdjust="spacingAndGlyphs" stroke="#333333" stroke-width="0.3">0.5</text>
<text x="928.90" y="227.95" font-family="'Liberation Sans', sans-serif" font-size="17.0" fill="#333333" textLength="25.768" lengthAdjust="spacingAndGlyphs" stroke="#333333" stroke-width="0.3">0.6</text>
<text x="928.90" y="172.40" font-family="'Liberation Sans', sans-serif" font-size="17.0" fill="#333333" textLength="25.768" lengthAdjust="spacingAndGlyphs" stroke="#333333" stroke-width="0.3">0.7</text>
<text x="928.90" y="116.85" font-family="'Liberation Sans', sans-serif" font-size="17.0" fill="#333333" textLength="25.768" lengthAdjust="spacingAndGlyphs" stroke="#333333" stroke-width="0.3">0.8</text>
<text x="928.90" y="61.30" font-family="'Liberation Sans', sans-serif" font-size="17.0" fill="#333333" textLength="25.768" lengthAdjust="spacingAndGlyphs" stroke="#333333" stroke-width="0.3">0.9</text>
<text x="966.00" y="299.20" font-family="'Liberation Sans', sans-serif" font-size="17.0" fill="#333333" textLength="25.768" lengthAdjust="spacingAndGlyphs" stroke="#333333" stroke-width="0.3">0.0</text>
<text x="1038.20" y="299.20" font-family="'Liberation Sans', sans-serif" font-size="17.0" fill="#333333" textLength="25.768" lengthAdjust="spacingAndGlyphs" stroke="#333333" stroke-width="0.3">0.2</text>
<text x="1110.60" y="299.20" font-family="'Liberation Sans', sans-serif" font-size="17.0" fill="#333333" textLength="25.768" lengthAdjust="spacingAndGlyphs" stroke="#333333" stroke-width="0.3">0.4</text>
<text x="1184.10" y="299.20" font-family="'Liberation Sans', sans-serif" font-size="17.0" fill="#333333" textLength="25.768" lengthAdjust="spacingAndGlyphs" stroke="#333333" stroke-width="0.3">0.6</text>
<text x="1257.10" y="299.20" font-family="'Liberation Sans', sans-serif" font-size="17.0" fill="#333333" textLength="25.768" lengthAdjust="spacingAndGlyphs" stroke="#333333" stroke-width="0.3">0.8</text>
<text transform="translate(922.20,196.30) rotate(-90)" x="0" y="0" font-family="'Liberation Sans', sans-serif" font-size="16.5" fill="#333333" textLength="108.271" lengthAdjust="spacingAndGlyphs" stroke="#333333" stroke-width="0.3">Test accuracy</text>
<text x="1041.70" y="317.90" font-family="'Liberation Sans', sans-serif" font-size="16.3" fill="#333333" textLength="218.410" lengthAdjust="spacingAndGlyphs" stroke="#333333" stroke-width="0.3">Ratio of removed examples</text>
<text x="1003.90" y="215.20" font-family="'Liberation Sans', sans-serif" font-size="12.8" fill="#333333" textLength="46.088" lengthAdjust="spacingAndGlyphs" stroke="#333333" stroke-width="0.3">random</text>
<text x="1004.90" y="232.10" font-family="'Liberation Sans', sans-serif" font-size="12.8" fill="#333333" textLength="18.009" lengthAdjust="spacingAndGlyphs" stroke="#333333" stroke-width="0.3">top</text>
<text x="1003.90" y="249.00" font-family="'Liberation Sans', sans-serif" font-size="12.8" fill="#333333" textLength="43.356" lengthAdjust="spacingAndGlyphs" stroke="#333333" stroke-width="0.3">bottom</text>
<text x="1003.90" y="266.10" font-family="'Liberation Sans', sans-serif" font-size="12.8" fill="#333333" textLength="106.532" lengthAdjust="spacingAndGlyphs" stroke="#333333" stroke-width="0.3">bottom (iterative)</text>
<text x="967.10" y="378.50" font-family="'Liberation Serif', serif" font-size="31.0" fill="#000" textLength="315.684" lengthAdjust="spacingAndGlyphs">(c) Summarizing datasets</text>
</svg></body></html>
